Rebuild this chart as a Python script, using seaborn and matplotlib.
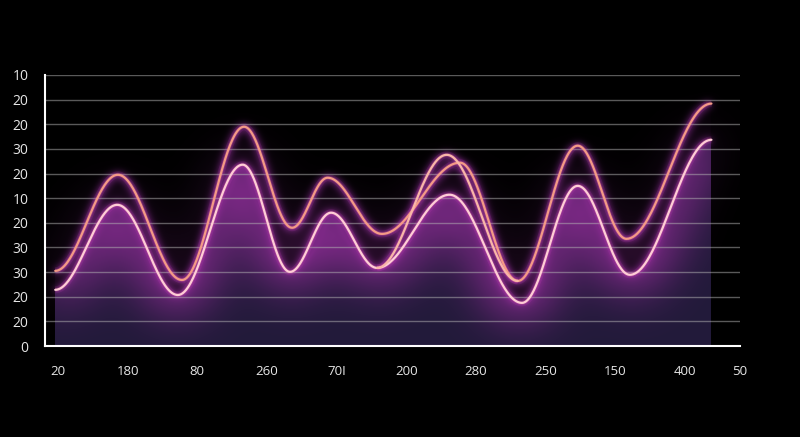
import numpy as np
import pandas as pd
import matplotlib
matplotlib.use("Agg")
import matplotlib.pyplot as plt
import seaborn as sns

# ----------------------------
# Data (x in tick positions, y in grid steps)
# ----------------------------
x_labels = ["20", "180", "80", "260", "70I", "200", "280", "250", "150", "400", "50"]
x_ticks = [0, 1, 2, 3, 4, 5, 6, 7, 8, 9, 9.79]
y_labels = ["0", "20", "20", "30", "30", "20", "10", "20", "30", "20", "20", "10"]

upper_x = [-0.04, 0.86, 1.78, 2.67, 3.36, 3.87, 4.65, 5.77, 6.60, 7.46, 8.16, 9.38]
upper_y = [3.05, 6.95, 2.68, 8.90, 4.80, 6.83, 4.55, 7.44, 2.64, 8.13, 4.35, 9.84]

lower_x = [-0.04, 0.85, 1.72, 2.65, 3.33, 3.92, 4.58, 5.62, 6.66, 7.46, 8.21, 9.38]
lower_y = [2.28, 5.73, 2.07, 7.36, 3.01, 5.41, 3.17, 6.14, 1.75, 6.50, 2.89, 8.37]

# short extra trace between the troughs around "200"/"280"
branch_x = [4.58, 5.58, 6.60]
branch_y = [3.17, 7.76, 2.64]


def smooth(xk, yk, n=80):
    # sine-shaped easing between the read turning points
    xs, ys = [], []
    for i in range(len(xk) - 1):
        t = np.linspace(0, 1, n, endpoint=False)
        s = (1 - np.cos(np.pi * t)) / 2
        xs.append(xk[i] + (xk[i + 1] - xk[i]) * t)
        ys.append(yk[i] + (yk[i + 1] - yk[i]) * s)
    xs.append([xk[-1]])
    ys.append([yk[-1]])
    return np.concatenate(xs), np.concatenate(ys)


def blur(a, sigma):
    r = int(sigma * 3)
    k = np.exp(-0.5 * (np.arange(-r, r + 1) / sigma) ** 2)
    k /= k.sum()
    a = np.apply_along_axis(lambda v: np.convolve(v, k, mode="same"), 0, a)
    a = np.apply_along_axis(lambda v: np.convolve(v, k, mode="same"), 1, a)
    return a


def raster(c, valid, H, W, px_per_unit):
    m = np.zeros((H, W))
    rows = c * px_per_unit
    for i in np.where(valid)[0]:
        lo = rows[max(i - 1, 0)]
        hi = rows[min(i + 1, W - 1)]
        a, b = int(min(lo, hi, rows[i]) - 1), int(max(lo, hi, rows[i]) + 1)
        m[max(a, 0):min(b, H), i] = 1.0
    return m


ux, uy = smooth(upper_x, upper_y)
lx, ly = smooth(lower_x, lower_y)
bx, by = smooth(branch_x, branch_y)

# ----------------------------
# Figure
# ----------------------------
sns.set_theme(style="dark")
plt.rcParams["font.family"] = ["Open Sans", "DejaVu Sans"]

fig = plt.figure(figsize=(8, 4.37), dpi=100, facecolor="black")
ax = fig.add_axes([45 / 800, 91 / 437, 695 / 800, 271 / 437])
ax.set_facecolor("black")
x0, x1 = -0.187, 9.79
ax.set_xlim(x0, x1)
ax.set_ylim(0, 11)

# ----------------------------
# Glow + gradient fill raster (one cell per pixel)
# ----------------------------
W, H = 695, 271
ppu = H / 11
gx = x0 + (np.arange(W) + 0.5) / W * (x1 - x0)
gy = (np.arange(H) + 0.5) / H * 11
GY = gy[:, None]
in_b = (gx >= branch_x[0]) & (gx <= branch_x[-1])
inside_x = (gx >= upper_x[0]) & (gx <= upper_x[-1])
cu = np.interp(gx, ux, uy)
cl = np.interp(gx, lx, ly)
cb = np.interp(gx, bx, by)
top = np.maximum(cu, cl)
top = np.where(in_b, np.maximum(top, cb), top)

m_low = raster(cl, inside_x, H, W, ppu)
m_all = np.clip(m_low + raster(cu, inside_x, H, W, ppu) + raster(cb, in_b, H, W, ppu), 0, 1)

wide = blur(m_low, 26)
wide = np.clip(wide / np.median(wide[m_low > 0]), 0, 1.6)
near = blur(m_all, 4)
near = np.clip(near / np.median(near[m_all > 0]), 0, 1)

navy = np.array([34, 26, 58]) / 255
magenta = np.array([132, 42, 140]) / 255
black = np.zeros(3)

below = (GY <= cl[None, :]) & inside_x[None, :]
between = (GY > cl[None, :]) & (GY <= top[None, :]) & inside_x[None, :]

k_below = np.clip(0.72 * wide + 0.25 * near, 0, 0.92)
rgb_below = navy * (1 - k_below[..., None]) + magenta * k_below[..., None]
k_between = np.clip(0.5 * near + 0.25 * wide, 0, 0.8)
rgb_between = black * (1 - k_between[..., None]) + magenta * k_between[..., None]

rgb = np.where(below[..., None], rgb_below,
               np.where(between[..., None], rgb_between, magenta))
alpha = np.where(below | between, 1.0, np.clip(0.55 * near + 0.15 * wide, 0, 0.7))
img = np.dstack([rgb, alpha])
ax.imshow(img, extent=[x0, x1, 0, 11], origin="lower", aspect="auto", zorder=1,
          interpolation="bilinear")

# horizontal grid
for yv in range(1, 12):
    ax.axhline(yv, color="#b5b5b5", lw=1.0, alpha=0.5, zorder=2)

# neon glow right along the traces
for xs, ys in [(ux, uy), (lx, ly), (bx, by)]:
    for lw, a, c in [(5, 0.14, "#d848c8"), (2.8, 0.22, "#ff78b8")]:
        ax.plot(xs, ys, color=c, lw=lw, alpha=a, solid_capstyle="butt", zorder=3)

lines = pd.concat([
    pd.DataFrame({"x": ux, "y": uy, "s": "upper"}),
    pd.DataFrame({"x": lx, "y": ly, "s": "lower"}),
    pd.DataFrame({"x": bx, "y": by, "s": "branch"}),
])
sns.lineplot(data=lines, x="x", y="y", hue="s", sort=False, estimator=None,
             palette={"upper": "#f49a86", "lower": "#ffcdd6", "branch": "#f9b6a8"},
             lw=1.6, legend=False, ax=ax, zorder=4)

# axes styling
for side in ["top", "right"]:
    ax.spines[side].set_visible(False)
for side in ["left", "bottom"]:
    ax.spines[side].set_color("white")
    ax.spines[side].set_linewidth(1.5)

ax.set_xticks(x_ticks)
ax.set_xticklabels(x_labels)
ax.set_yticks(range(12))
ax.set_yticklabels(y_labels)
ax.tick_params(axis="x", direction="inout", length=12, width=1.5, colors="white",
               labelcolor="#e6e6e6", labelsize=9.5, pad=8)
ax.tick_params(axis="y", direction="out", length=5, width=1.5, colors="white",
               labelcolor="#e6e6e6", labelsize=10, pad=7)
ax.set_xlabel("")
ax.set_ylabel("")
ax.grid(False)

fig.savefig("out.png", dpi=100, facecolor="black")
